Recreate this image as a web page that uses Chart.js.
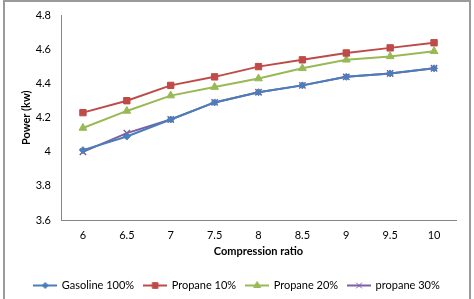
<!DOCTYPE html>
<html><head><meta charset="utf-8">
<script src="https://cdn.jsdelivr.net/npm/chart.js@4"></script>
<style>html,body{margin:0;padding:0;background:#fff}#wrap{width:474px;height:299px}</style>
</head><body><div id="wrap"><canvas id="c" width="474" height="299"></canvas></div>
<script>
const categories = ['6','6.5','7','7.5','8','8.5','9','9.5','10'];
const gasoline100 = [4.01,4.09,4.19,4.29,4.35,4.39,4.44,4.46,4.49];
const propane10 = [4.23,4.30,4.39,4.44,4.50,4.54,4.58,4.61,4.64];
const propane20 = [4.14,4.24,4.33,4.38,4.43,4.49,4.54,4.56,4.59];
const propane30 = [4.00,4.11,4.19,4.29,4.35,4.39,4.44,4.46,4.49];
const yTicks = [3.6,3.8,4,4.2,4.4,4.6,4.8];
const seriesNames = ['Gasoline 100%','Propane 10%','Propane 20%','propane 30%'];

const colors = ['#4A7EBB','#BE4B48','#98B954','#7D60A0'];
const styles = ['rectRot','rect','triangle','crossRot'];
const radii = [3.5,4.5,4.5,4.5];

function legendIcon(color, style, r){
  const cv = document.createElement('canvas');
  cv.width = 24; cv.height = 11;
  const ctx = cv.getContext('2d');
  ctx.strokeStyle = color; ctx.lineWidth = 2;
  ctx.beginPath(); ctx.moveTo(0,5.5); ctx.lineTo(24,5.5); ctx.stroke();
  ctx.strokeStyle = color; ctx.fillStyle = color; ctx.lineWidth = 1;
  Chart.helpers.drawPoint(ctx, {pointStyle: style, radius: r - 0.5, borderWidth: 1, rotation: 0}, 12, 5.5);
  return cv;
}

const datasets = [gasoline100, propane10, propane20, propane30].map((d,i)=>({
  label: seriesNames[i], data: d,
  borderColor: colors[i], backgroundColor: colors[i],
  borderWidth: 2, pointStyle: styles[i], pointRadius: radii[i],
  pointBorderWidth: i===3 ? 1.5 : 1, pointBorderColor: colors[i], pointBackgroundColor: colors[i],
  tension: 0
}));

const framePlugin = {
  id:'frame',
  afterDraw(chart){
    const ctx = chart.ctx; ctx.save();
    ctx.strokeStyle = '#9a9a9a'; ctx.lineWidth = 2;
    ctx.strokeRect(4, 1, 466, 300);
    ctx.restore();
  }
};

Chart.defaults.font.family = 'Lato, "Liberation Sans", sans-serif';
Chart.defaults.color = '#000';

new Chart(document.getElementById('c'), {
  type: 'line',
  data: { labels: categories, datasets },
  options: {
    responsive: false, animation: false,
    layout: { padding: { top: 0, right: 0, left: 0, bottom: -2 } },
    plugins: {
      legend: {
        position: 'bottom',
        labels: {
          usePointStyle: true, pointStyleWidth: 22, boxHeight: 11,
          padding: 10, font: { size: 11 },
          generateLabels(chart){
            return chart.data.datasets.map((ds,i)=>({
              text: ds.label, pointStyle: legendIcon(colors[i], styles[i], radii[i]),
              fillStyle: colors[i], strokeStyle: colors[i], lineWidth: 0,
              datasetIndex: i, hidden: false, fontColor: '#000'
            }));
          }
        }
      },
      tooltip: { enabled: false }
    },
    scales: {
      x: {
        offset: true,
        grid: { display: false, drawTicks: false },
        border: { display: true, color: '#868686', width: 1 },
        ticks: { font: { size: 11 }, padding: 9 },
        title: { display: true, text: 'Compression ratio', font: { size: 11, weight: 'bold' }, padding: { top: 2, bottom: 12 } },
        afterFit(s){ s.height = 50; }
      },
      y: {
        min: 3.6, max: 4.8,
        grid: { display: false, drawTicks: false },
        border: { display: true, color: '#868686', width: 1 },
        afterBuildTicks(s){ s.ticks = yTicks.map(v=>({value:v})); },
        ticks: { font: { size: 11, lineHeight: 1 }, padding: 10, callback: v => String(Math.round(v*10)/10) },
        title: { display: true, text: 'Power (kw)', font: { size: 11, weight: 'bold' }, padding: { top: 20, bottom: 0 } },
        afterFit(s){ s.width = 61; }
      },
      spacer: {
        type: 'linear', position: 'right', display: true,
        grid: { display: false, drawTicks: false },
        border: { display: false },
        ticks: { display: false },
        afterFit(s){ s.width = 18; }
      }
    }
  },
  plugins: [framePlugin]
});
</script></body></html>
